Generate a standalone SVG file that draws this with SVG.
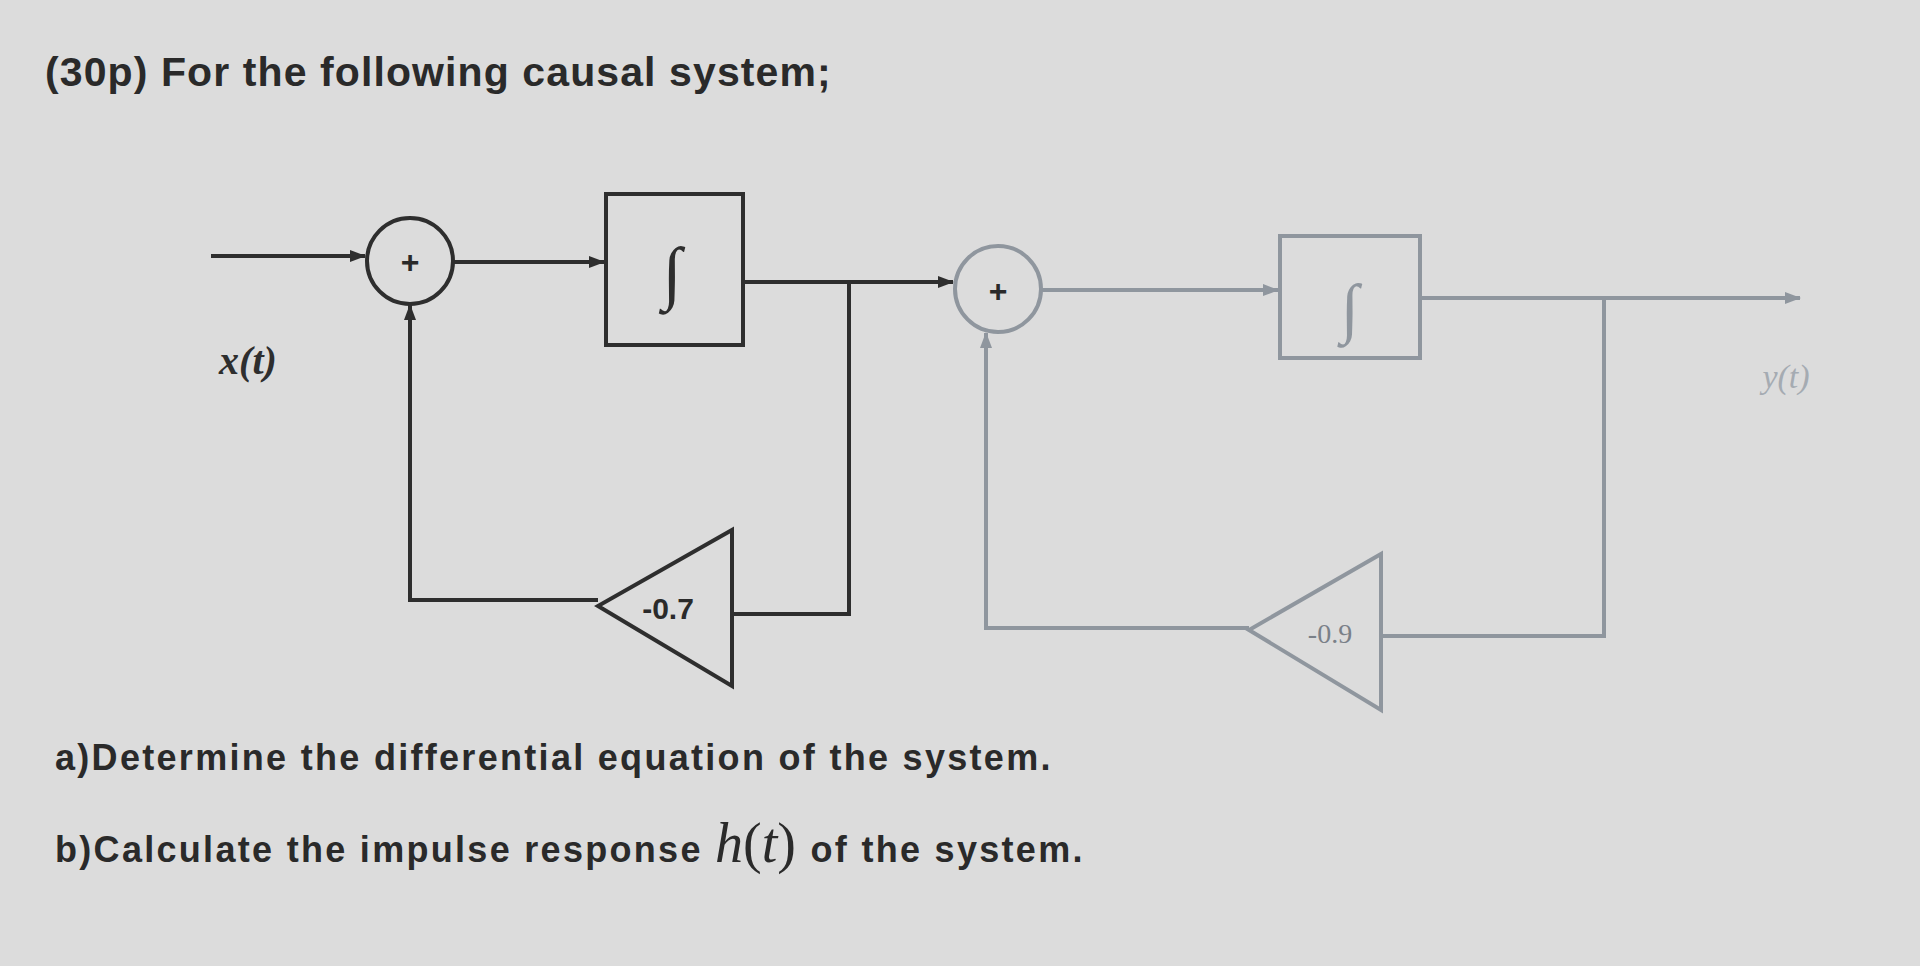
<svg xmlns="http://www.w3.org/2000/svg" width="1920" height="966" viewBox="0 0 1920 966">
<style>
.t{font-family:"Liberation Sans",Arial,sans-serif;font-weight:bold;fill:#2a2a2a}
.d{stroke:#2e2e2e;stroke-width:4;fill:none}
.l{stroke:#8f969e;stroke-width:4;fill:none}
.s{font-family:"Liberation Serif","Times New Roman",serif}
</style>
<defs>
<marker id="ad" markerWidth="16" markerHeight="12" refX="15" refY="6" orient="auto" markerUnits="userSpaceOnUse"><path d="M0,0L16,6L0,12z" fill="#2e2e2e"/></marker>
<marker id="al" markerWidth="16" markerHeight="12" refX="15" refY="6" orient="auto" markerUnits="userSpaceOnUse"><path d="M0,0L16,6L0,12z" fill="#8f969e"/></marker>
</defs>
<rect width="1920" height="966" fill="#dcdcdc"/>
<text class="t" x="45" y="86" font-size="41" letter-spacing="1.1">(30p) For the following causal system;</text>
<g id="connectors">
<path class="d" d="M211,256H365" marker-end="url(#ad)"/>
<path class="d" d="M454,262H604" marker-end="url(#ad)"/>
<path class="d" d="M743,282H953" marker-end="url(#ad)"/>
<path class="d" d="M849,282V614H732"/>
<path class="d" d="M598,600H410V305" marker-end="url(#ad)"/>
<path class="l" d="M1042,290H1278" marker-end="url(#al)"/>
<path class="l" d="M1420,298H1800" marker-end="url(#al)"/>
<path class="l" d="M1604,298V636H1381"/>
<path class="l" d="M1249,628H986V333" marker-end="url(#al)"/>
</g>
<g id="sum1"><circle class="d" cx="410" cy="261" r="43"/><text class="t" x="410" y="273" font-size="32" text-anchor="middle">+</text></g>
<g id="int1"><rect class="d" x="606" y="194" width="137" height="151"/><text class="s" x="672" y="296" font-size="70" font-weight="bold" text-anchor="middle" fill="#2e2e2e">∫</text></g>
<g id="gain1"><path class="d" d="M732,530V686L598,606z"/><text class="t" x="668" y="619" font-size="30" text-anchor="middle">-0.7</text></g>
<g id="sum2"><circle class="l" cx="998" cy="289" r="43"/><text class="t" x="998" y="302" font-size="32" text-anchor="middle" fill="#555">+</text></g>
<g id="int2"><rect class="l" x="1280" y="236" width="140" height="122"/><text class="s" x="1350" y="330" font-size="66" text-anchor="middle" fill="#8f969e">∫</text></g>
<g id="gain2"><path class="l" d="M1381,554V710L1249,630z"/><text class="s" x="1330" y="643" font-size="28" text-anchor="middle" fill="#7a8088">-0.9</text></g>
<text class="s" x="248" y="374" font-size="40" font-style="italic" font-weight="bold" text-anchor="middle" fill="#2e2e2e">x(t)</text>
<text class="s" x="1786" y="388" font-size="34" font-style="italic" text-anchor="middle" fill="#a5abb2">y(t)</text>
<text class="t" x="55" y="770" font-size="36" letter-spacing="2.3">a)Determine the differential equation of the system.</text>
<text class="t" x="55" y="862" font-size="36" letter-spacing="2.3">b)Calculate the impulse response <tspan class="s" font-weight="normal" font-style="italic" font-size="56" letter-spacing="0">h</tspan><tspan class="s" font-weight="normal" font-size="56" letter-spacing="0">(</tspan><tspan class="s" font-weight="normal" font-style="italic" font-size="56" letter-spacing="0">t</tspan><tspan class="s" font-weight="normal" font-size="56">)</tspan> of the system.</text>
</svg>
